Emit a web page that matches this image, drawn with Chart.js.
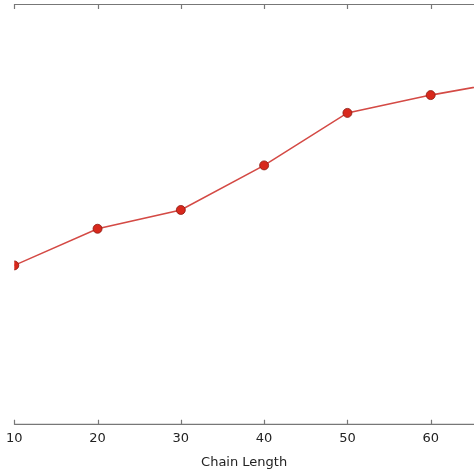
<!DOCTYPE html>
<html><head><meta charset="utf-8">
<script src="https://cdn.jsdelivr.net/npm/chart.js@4/dist/chart.umd.min.js"></script>
<style>html,body{margin:0;padding:0;background:#fff}canvas{display:block}</style>
</head><body>
<canvas id="c" width="474" height="474"></canvas>
<script>
const chainLengths = [10, 20, 30, 40, 50, 60, 70];
const values = [161, 198, 217, 262, 315, 333, 348];
const tickValues = [10, 20, 30, 40, 50, 60];

const frame = {
  id: 'frame',
  afterDraw(chart) {
    const {ctx, chartArea: a, scales: {x}} = chart;
    ctx.save();
    ctx.strokeStyle = '#777';
    ctx.lineWidth = 1.2;
    ctx.beginPath();
    ctx.moveTo(a.left, a.top + 0.5); ctx.lineTo(a.right, a.top + 0.5);
    ctx.moveTo(a.left, a.bottom - 0.5); ctx.lineTo(a.right, a.bottom - 0.5);
    tickValues.forEach(v => {
      const px = Math.round(x.getPixelForValue(v)) + 0.5;
      ctx.moveTo(px, a.top); ctx.lineTo(px, a.top + 5);
      ctx.moveTo(px, a.bottom); ctx.lineTo(px, a.bottom - 5);
    });
    ctx.stroke();
    ctx.restore();
  }
};

new Chart(document.getElementById('c'), {
  type: 'line',
  data: {
    datasets: [{
      data: chainLengths.map((c, i) => ({x: c, y: values[i]})),
      borderColor: '#d44a45',
      borderWidth: 1.6,
      pointBackgroundColor: '#d8281c',
      pointBorderColor: '#8a1a12',
      pointBorderWidth: 0.8,
      pointRadius: 4.5,
      tension: 0
    }]
  },
  options: {
    responsive: false,
    animation: false,
    layout: {autoPadding: false, padding: {top: 4, left: 0, right: 0, bottom: 0}},
    plugins: {legend: {display: false}, tooltip: {enabled: false}},
    scales: {
      x: {
        type: 'linear', min: 10, max: 65.2,
        border: {display: false},
        grid: {display: false, drawTicks: false},
        afterBuildTicks: s => { s.ticks = tickValues.map(v => ({value: v})); },
        ticks: {color: '#222', font: {family: 'DejaVu Sans', size: 13}, padding: 6, maxRotation: 0,
                callback: v => String(v)},
        title: {display: true, text: 'Chain Length', color: '#222',
                font: {family: 'DejaVu Sans', size: 13}, padding: {top: 2, bottom: 4}}
      },
      y: {min: 0, max: 425, display: false}
    }
  },
  plugins: [frame]
});
</script>
</body></html>
